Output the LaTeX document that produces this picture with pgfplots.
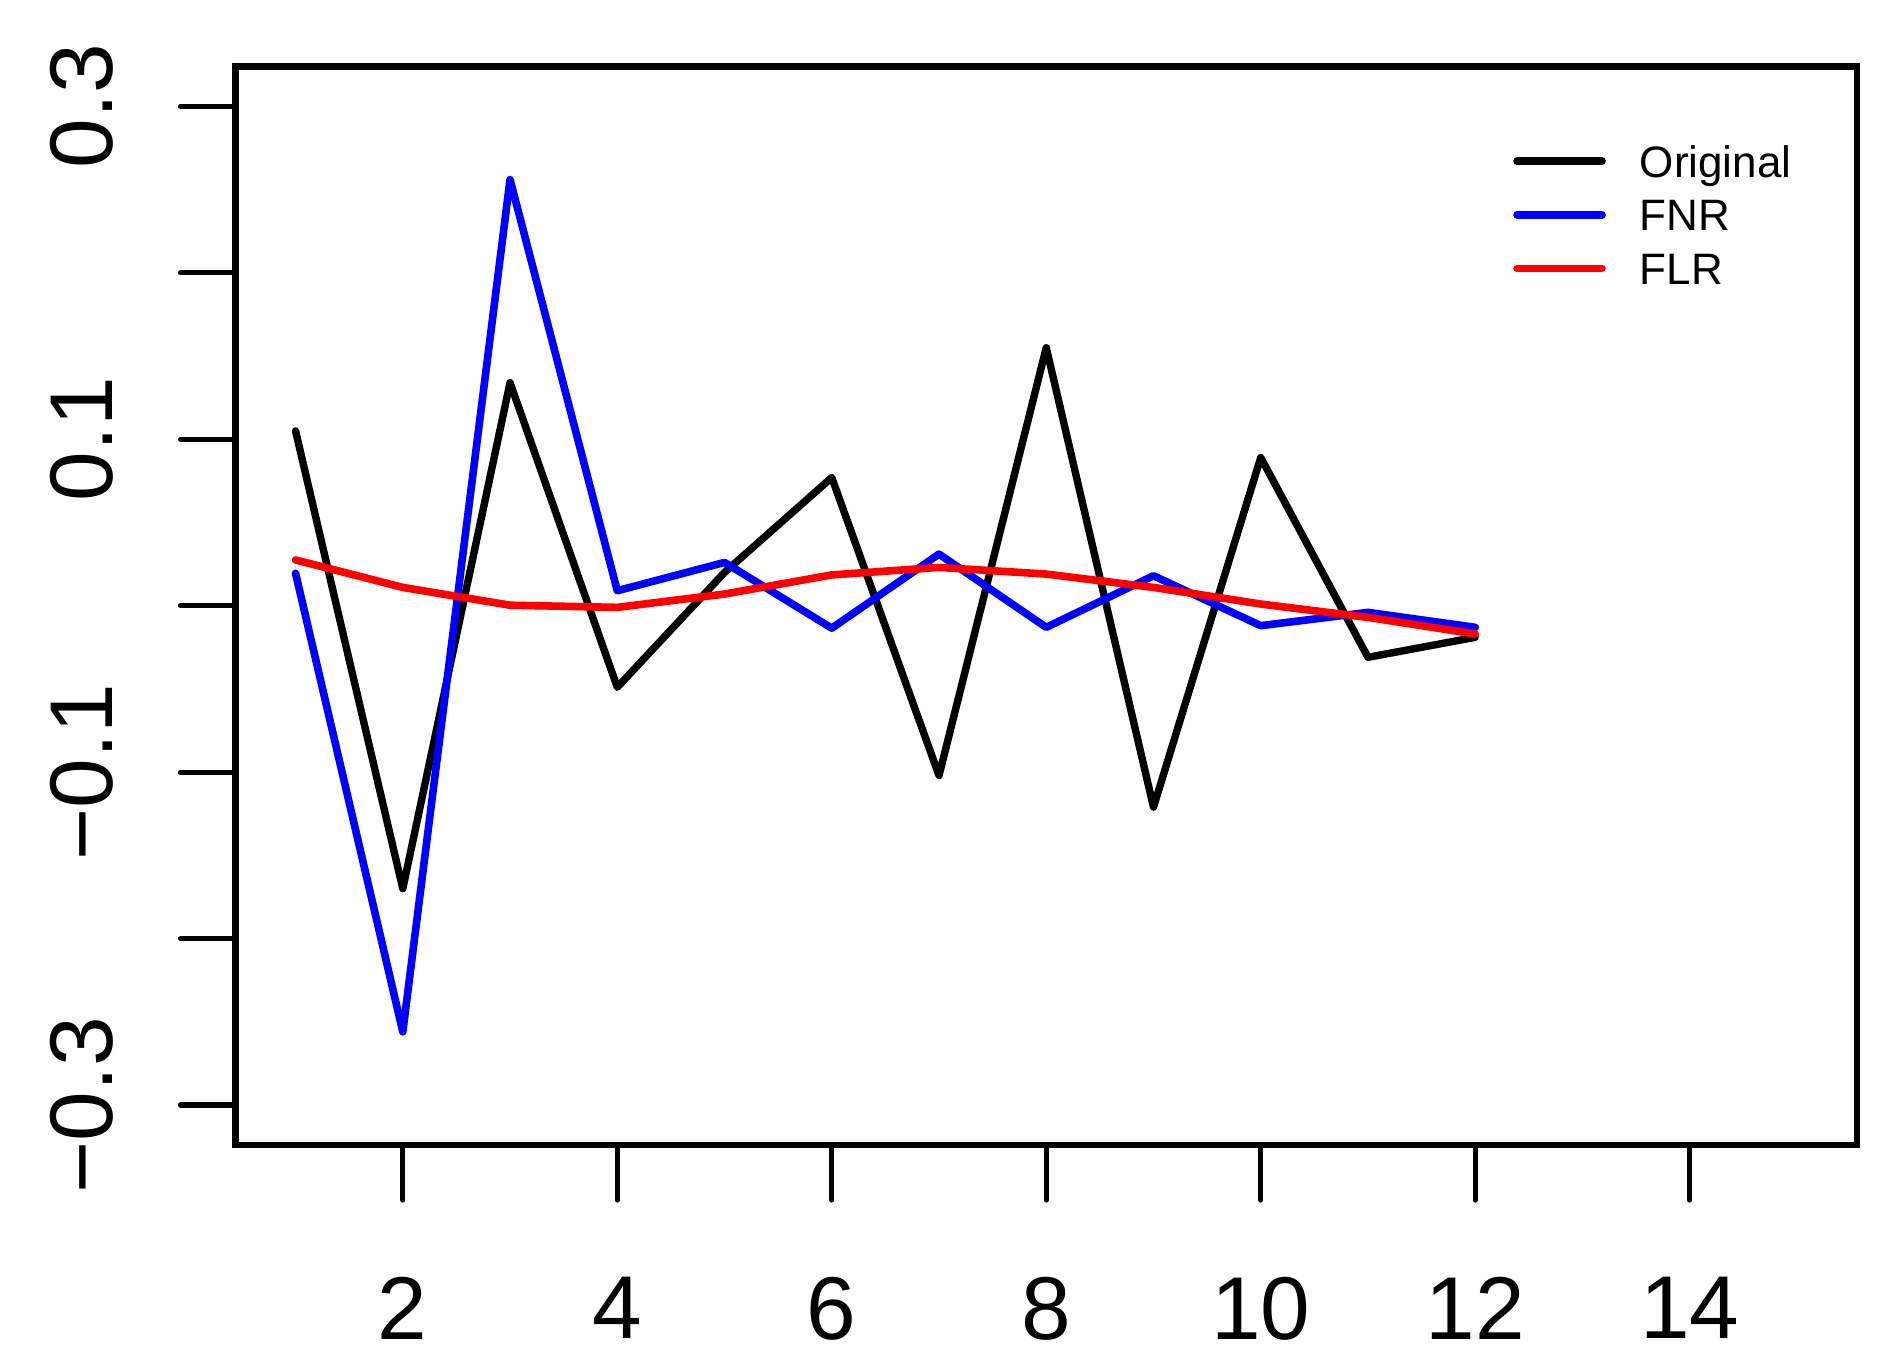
\documentclass[border=0pt]{standalone}
\usepackage{pgfplots}
\pgfplotsset{compat=1.18}
\usepackage{fontspec}
\setmainfont{Liberation Sans}
\begin{document}
\begin{tikzpicture}
\begin{axis}[
  at={(0,0)}, anchor=south west,
  scale only axis,
  width=405.375pt, height=269.65pt,
  xmin=0.44, xmax=15.56,
  ymin=-0.324, ymax=0.324,
  xtick={2,4,6,8,10,12,14},
  xticklabels={2,4,6,8,10,12,14},
  ytick={-0.3,-0.2,-0.1,0,0.1,0.2,0.3},
  yticklabels={−0.3,,−0.1,,0.1,,0.3},
  tick align=outside,
  major tick length=13.75pt,
  tick style={line width=1.3pt, black, line cap=round},
  axis line style={line width=1.7pt},
  xtick pos=bottom, ytick pos=left,
  /pgf/number format/assume math mode=true,
  tick label style={font=\fontsize{22.3}{26}\selectfont, inner sep=0pt},
  xticklabel style={anchor=north},
  yticklabel style={rotate=90, anchor=south},
  xticklabel shift=19pt,
  yticklabel shift=16.6pt,
  legend cell align=left,
  legend style={draw=none, fill=none, inner sep=0pt, outer sep=0pt,
    at={(axis description cs:0.788,0.927)}, anchor=north west,
    font=\fontsize{11}{13}\selectfont,
    nodes={inner sep=0pt, text height=8pt, text depth=2.4pt},
    row sep=3pt, column sep=8.5pt},
  legend image code/.code={\draw[#1, line width=1.9pt, line cap=round] (0pt,1.2pt) -- (21.25pt,1.2pt);},
  clip=false,
]
\addplot[black, line width=1.85pt, line join=round, line cap=round] coordinates {
(1,0.105) (2,-0.170) (3,0.134) (4,-0.049) (5,0.020) (6,0.077) (7,-0.102) (8,0.155) (9,-0.121) (10,0.089) (11,-0.031) (12,-0.019)};
\addlegendentry{Original}
\addplot[blue, line width=1.9pt, line join=round, line cap=round] coordinates {
(1,0.0195) (2,-0.256) (3,0.256) (4,0.009) (5,0.026) (6,-0.0135) (7,0.031) (8,-0.013) (9,0.018) (10,-0.012) (11,-0.004) (12,-0.013)};
\addlegendentry{FNR}
\addplot[red, line width=1.9pt, line join=round, line cap=round] coordinates {
(1,0.0275) (2,0.011) (3,0.0003) (4,-0.001) (5,0.007) (6,0.0185) (7,0.023) (8,0.019) (9,0.011) (10,0.001) (11,-0.007) (12,-0.017)};
\addlegendentry{FLR}
\end{axis}
\pgfresetboundingbox
\path[use as bounding box] (-58.875pt,-56.5pt) rectangle (414.625pt,286.25pt);
\end{tikzpicture}
\end{document}
